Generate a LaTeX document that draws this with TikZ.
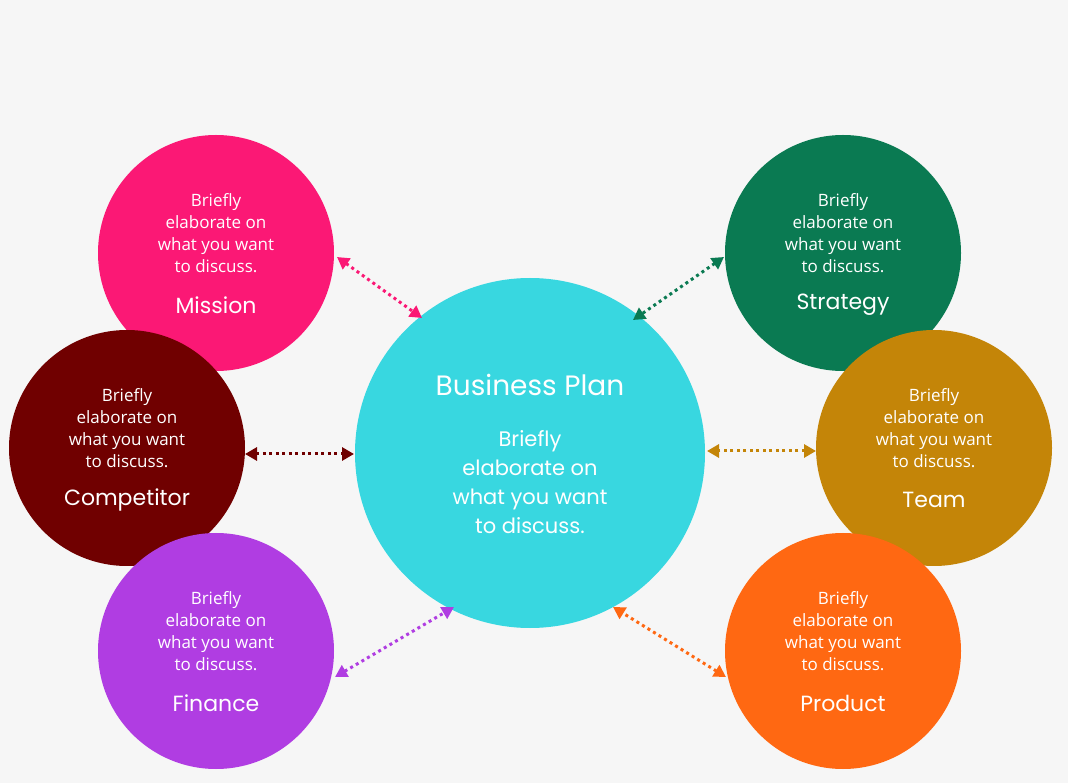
\documentclass[tikz,border=0pt]{standalone}
\usepackage{fontspec}
\setmainfont{Poppins}
\newfontfamily\bodyfont{Open Sans}
\usetikzlibrary{arrows.meta}
\definecolor{bg}{HTML}{F6F6F6}
\definecolor{cmis}{HTML}{FB1875}
\definecolor{ccom}{HTML}{700000}
\definecolor{cfin}{HTML}{B03DE2}
\definecolor{cstr}{HTML}{0A7A52}
\definecolor{ctea}{HTML}{C48508}
\definecolor{cpro}{HTML}{FF6812}
\definecolor{ccen}{HTML}{38D7E0}
\tikzset{
  bub/.style={circle,minimum size=236pt,inner sep=0pt,fill=#1},
  ttl/.style={text=white,font=\fontsize{22}{26}\selectfont},
  bdy/.style={text=white,align=center,font=\bodyfont\fontsize{17}{22}\selectfont},
  conn/.style={draw=#1,line width=3pt,dash pattern=on 3pt off 3.5pt,
    {Triangle[length=12pt,width=13pt,fill=#1]}-{Triangle[length=12pt,width=13pt,fill=#1]}, shorten <=0pt},
}
\begin{document}
\begin{tikzpicture}[x=1pt,y=-1pt]
\fill[bg] (0,0) rectangle (1080,783);
\fill[white] (1068,0) rectangle (1080,783);
\node[bub=cmis] (mis) at (216,253) {};
\node[bub=ccom] (com) at (127,448) {};
\node[bub=cfin] (fin) at (216,651) {};
\node[bub=cstr] (str) at (843,253) {};
\node[bub=ctea] (tea) at (934,448) {};
\node[bub=cpro] (pro) at (843,651) {};
\node[circle,minimum size=350pt,inner sep=0pt,fill=ccen] (cen) at (530,453) {};
\foreach \n/\t in {mis/Mission,com/Competitor,fin/Finance,str/Strategy,tea/Team,pro/Product}{
  \node[ttl] at ([yshift=-52pt]\n.center) {\t};
  \node[bdy] at ([yshift=20pt]\n.center) {Briefly\\elaborate on\\what you want\\to discuss.};
}
\node[ttl,font=\fontsize{28}{32}\selectfont] at (530,385) {Business Plan};
\node[bdy,font=\fontsize{21}{29}\selectfont] at (530,482) {Briefly\\elaborate on\\what you want\\to discuss.};
\coordinate (a1) at (337,257); \coordinate (b1) at (422,318);
\coordinate (a2) at (724,257); \coordinate (b2) at (633,320);
\coordinate (a3) at (245,454); \coordinate (b3) at (354,454);
\coordinate (a4) at (816,451); \coordinate (b4) at (707,451);
\coordinate (a5) at (335,677); \coordinate (b5) at (454,607);
\coordinate (a6) at (726,677); \coordinate (b6) at (613,607);
\draw[conn=cmis] (a1) -- (b1);
\draw[conn=cstr] (a2) -- (b2);
\draw[conn=ccom] (a3) -- (b3);
\draw[conn=ctea] (a4) -- (b4);
\draw[conn=cfin] (a5) -- (b5);
\draw[conn=cpro] (a6) -- (b6);
\end{tikzpicture}
\end{document}
